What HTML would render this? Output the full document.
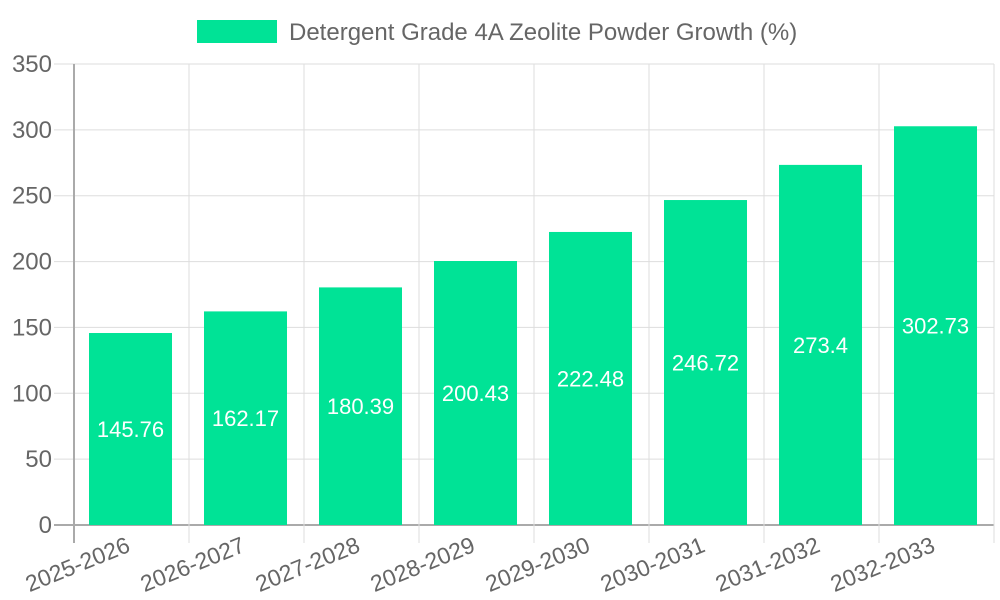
<!DOCTYPE html>
<html><head><meta charset="utf-8"><style>
body{margin:0;background:#fff;}
svg{display:block;font-family:"Liberation Sans",sans-serif;}
</style></head><body>
<svg id="chart" width="1000" height="600">
<rect x="197" y="20" width="80" height="23" fill="#00E396"/>
<text x="289" y="40" font-size="24" fill="#666">Detergent Grade 4A Zeolite Powder Growth (%)</text>
<g id="grid"></g><g id="bars"></g><g id="labels"></g>
</svg>
<script>
const categories=["2025-2026","2026-2027","2027-2028","2028-2029","2029-2030","2030-2031","2031-2032","2032-2033"];
const values=[145.76,162.17,180.39,200.43,222.48,246.72,273.4,302.73];
const yTicks=[0,50,100,150,200,250,300,350];
const L=74,R=994,T=64,B=525,yMax=350;
const bw=(R-L)/categories.length;
const y=v=>B-(v/yMax)*(B-T);
const x=i=>L+i*bw;
const ns="http://www.w3.org/2000/svg";
const g=document.getElementById('grid'),bg=document.getElementById('bars'),lg=document.getElementById('labels');
function mk(tag,a,p){const e=document.createElementNS(ns,tag);for(const k in a)e.setAttribute(k,a[k]);p.appendChild(e);return e;}
yTicks.forEach(t=>{
  const l=mk('line',{x1:L-20,x2:R,y1:y(t),y2:y(t),stroke:t===0?'#aaa':'#ddd','stroke-width':t===0?2:1},g);
  
  
  const tx=mk('text',{x:L-22,y:y(t)+8,'text-anchor':'end','font-size':24,fill:'#666'},g);
  tx.textContent=t;
  
  
});
for(let i=0;i<=categories.length;i++){
  const l=mk('line',{x1:x(i),x2:x(i),y1:T,y2:B+18,stroke:i===0?'#aaa':'#ddd','stroke-width':i===0?2:1},g);
  
  
}
categories.forEach((c,i)=>{
  const cx=x(i)+bw/2,w=83;
  const r=mk('rect',{x:cx-w/2-1,y:y(values[i]),width:w,height:B-y(values[i]),fill:'#00E396'},bg);
  
  
  const v=mk('text',{x:cx-1,y:(y(values[i])+B)/2+8,'text-anchor':'middle','font-size':22,fill:'#fff'},lg);
  v.textContent=values[i];
  
  
  const xl=mk('text',{x:cx,y:551,'text-anchor':'end','font-size':23,fill:'#666',transform:`rotate(-22 ${cx} 551)`},lg);
  xl.textContent=c;
  
  
});
</script>
</body></html>
